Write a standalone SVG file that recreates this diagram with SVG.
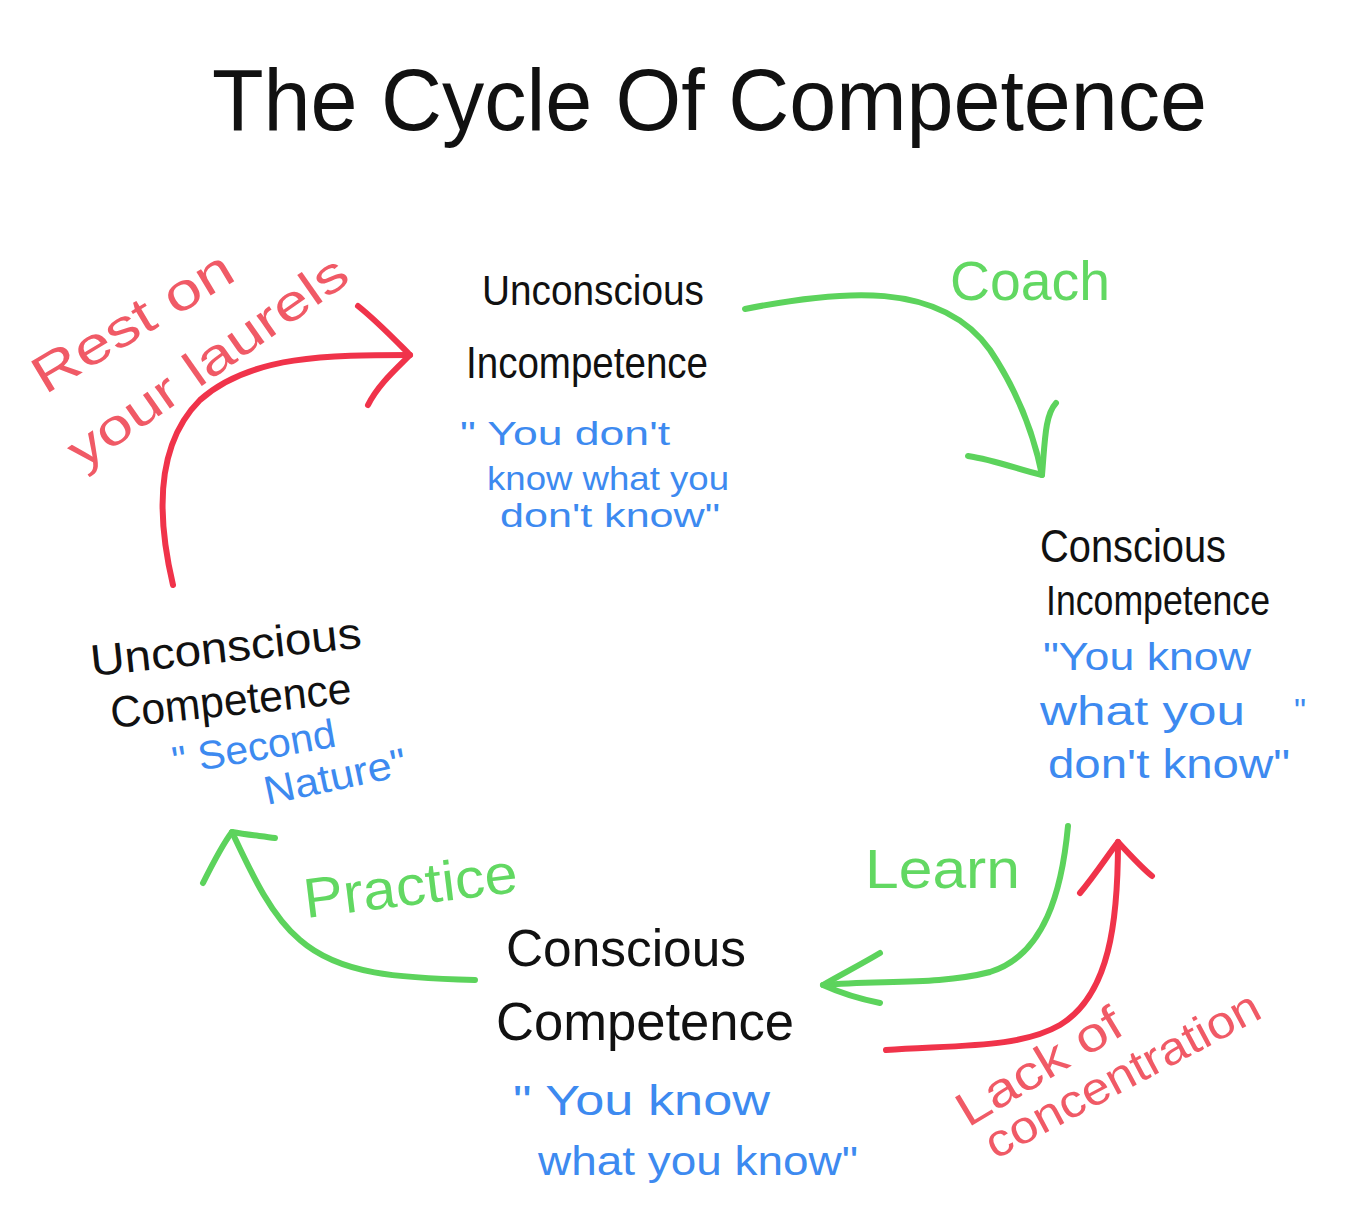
<svg xmlns="http://www.w3.org/2000/svg" width="1348" height="1226" viewBox="0 0 1348 1226">
<style>
text{font-family:"Liberation Sans","DejaVu Sans",sans-serif}
.k{fill:#111}
.b{fill:#3d8af0}
.g{fill:#62d862}
.r{fill:#f05a66}
.ag{fill:none;stroke:#5cd35c;stroke-width:6;stroke-linecap:round;stroke-linejoin:round}
.ar{fill:none;stroke:#f0334a;stroke-width:6;stroke-linecap:round;stroke-linejoin:round}
</style>
<rect width="1348" height="1226" fill="#fff"/>
<text class="k" x="212" y="130" font-size="88" textLength="995" lengthAdjust="spacingAndGlyphs">The Cycle Of Competence</text>

<g id="unconscious-incompetence">
<text class="k" x="482" y="305" font-size="42" textLength="222" lengthAdjust="spacingAndGlyphs">Unconscious</text>
<text class="k" x="466" y="378" font-size="44" textLength="242" lengthAdjust="spacingAndGlyphs">Incompetence</text>
<text class="b" x="460" y="445" font-size="34" textLength="210" lengthAdjust="spacingAndGlyphs">" You don't</text>
<text class="b" x="487" y="490" font-size="34" textLength="242" lengthAdjust="spacingAndGlyphs">know what you</text>
<text class="b" x="500" y="527" font-size="34" textLength="220" lengthAdjust="spacingAndGlyphs">don't know"</text>
</g>

<g id="conscious-incompetence">
<text class="k" x="1040" y="562" font-size="46" textLength="186" lengthAdjust="spacingAndGlyphs">Conscious</text>
<text class="k" x="1046" y="615" font-size="42" textLength="224" lengthAdjust="spacingAndGlyphs">Incompetence</text>
<text class="b" x="1043" y="670" font-size="38" textLength="208" lengthAdjust="spacingAndGlyphs">"You know</text>
<text class="b" x="1040" y="725" font-size="40" textLength="205" lengthAdjust="spacingAndGlyphs">what you</text>
<text class="b" x="1294" y="722" font-size="34">"</text>
<text class="b" x="1048" y="778" font-size="40" textLength="242" lengthAdjust="spacingAndGlyphs">don't know"</text>
</g>

<g id="conscious-competence">
<text class="k" x="506" y="966" font-size="52" textLength="240" lengthAdjust="spacingAndGlyphs">Conscious</text>
<text class="k" x="496" y="1040" font-size="54" textLength="298" lengthAdjust="spacingAndGlyphs">Competence</text>
<text class="b" x="513" y="1115" font-size="42" textLength="257" lengthAdjust="spacingAndGlyphs">" You know</text>
<text class="b" x="538" y="1175" font-size="40" textLength="320" lengthAdjust="spacingAndGlyphs">what you know"</text>
</g>

<g id="unconscious-competence">
<text class="k" x="92" y="676" font-size="44" textLength="272" lengthAdjust="spacingAndGlyphs" transform="rotate(-6 92 676)">Unconscious</text>
<text class="k" x="112" y="728" font-size="44" textLength="242" lengthAdjust="spacingAndGlyphs" transform="rotate(-6 112 728)">Competence</text>
<text class="b" x="175" y="775" font-size="40" textLength="165" lengthAdjust="spacingAndGlyphs" transform="rotate(-10 175 775)">" Second</text>
<text class="b" x="267" y="805" font-size="40" textLength="145" lengthAdjust="spacingAndGlyphs" transform="rotate(-12 267 805)">Nature"</text>
</g>

<g id="connectors">
<path class="ag" d="M745 309 C840 290 940 280 990 350 C1020 395 1035 440 1042 475"/>
<path class="ag" d="M968 456 C995 460 1020 470 1042 475 C1045 440 1045 415 1056 403"/>
<text class="g" x="950" y="300" font-size="56" textLength="160" lengthAdjust="spacingAndGlyphs">Coach</text>

<path class="ag" d="M1068 826 C1062 890 1045 955 990 972 C940 985 880 980 823 985"/>
<path class="ag" d="M880 953 C860 965 840 975 823 985 C845 995 865 1000 880 1003"/>
<text class="g" x="865" y="888" font-size="56" textLength="155" lengthAdjust="spacingAndGlyphs">Learn</text>

<path class="ar" d="M886 1050 C960 1045 1020 1048 1060 1025 C1110 995 1118 920 1118 842"/>
<path class="ar" d="M1080 893 C1095 875 1108 855 1118 842 C1130 855 1142 868 1152 876"/>
<text class="r" x="968" y="1128" font-size="48" textLength="185" lengthAdjust="spacingAndGlyphs" transform="rotate(-31 968 1128)">Lack of</text>
<text class="r" x="995" y="1160" font-size="46" textLength="305" lengthAdjust="spacingAndGlyphs" transform="rotate(-28 995 1160)">concentration</text>

<path class="ag" d="M475 980 C400 978 340 975 300 940 C270 915 250 870 232 832"/>
<path class="ag" d="M203 883 C212 865 222 845 232 832 C248 835 262 836 275 838"/>
<text class="g" x="306" y="918" font-size="56" textLength="215" lengthAdjust="spacingAndGlyphs" transform="rotate(-7 306 918)">Practice</text>

<path class="ar" d="M173 585 C160 530 150 450 200 400 C250 355 330 355 410 355"/>
<path class="ar" d="M358 306 C378 322 395 340 410 355 C395 370 378 385 368 405"/>
<text class="r" x="45" y="395" font-size="52" textLength="225" lengthAdjust="spacingAndGlyphs" transform="rotate(-31 45 395)">Rest on</text>
<text class="r" x="82" y="470" font-size="50" textLength="330" lengthAdjust="spacingAndGlyphs" transform="rotate(-35 82 470)">your laurels</text>
</g>
</svg>
